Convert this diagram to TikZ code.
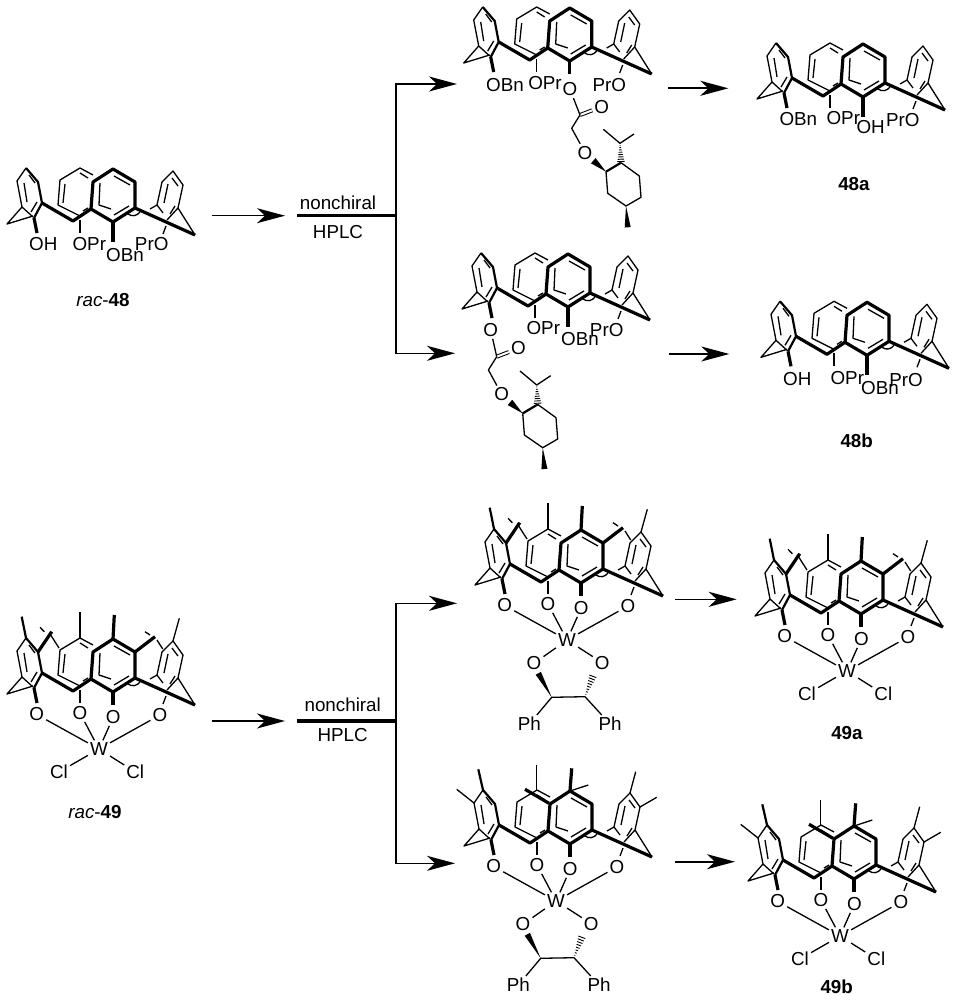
\documentclass[tikz,border=0pt]{standalone}
\usepackage{fontspec}
\setmainfont{Liberation Sans}
\usetikzlibrary{arrows.meta, calc}

\newcommand{\wedgebond}[3]{\fill (#1) -- ($(#2)!#3!90:(#1)$) -- ($(#2)!#3!-90:(#1)$) -- cycle;}
\newcommand{\hashbond}[3]{
\foreach \t in {0.1,0.22,0.34,0.46,0.58,0.7,0.82,0.94}
{
\coordinate (hm) at ($(#1)!\t!(#2)$);
\draw[line width=0.9pt] ($(hm)!\t*#3!90:(#2)$) -- ($(hm)!\t*#3!-90:(#2)$);
}
}
\newcommand{\wcore}{
\node[atom] (w) at (99,139) {W};
\foreach \n/\x/\y in {1/36.7/104.5, 2/80/103, 3/113.3/107, 4/160/105}
{
\node[atom] (o\n) at (\x,\y) {O};
\draw[bondthin] (o\n) -- (w);
}
}

\tikzset{
bondthin/.style={line width=1.3pt, line join=round},
bondmid/.style={line width=2.2pt, line join=round},
bondheavy/.style={line width=3.2pt, line join=round},
atom/.style={inner sep=2pt, font=\fontsize{18.8}{20}\selectfont},
rxnarrow/.style={line width=1.6pt, -{Stealth[length=28pt, width=15pt, inset=8pt]}},
calix/.pic={
\draw[bondthin] (33,77) -- (22,67) -- (17,41) -- (26,28);
\draw[bondthin] (22,67) -- (7,84) -- (33,76);
\draw[bondmid] (26,28) -- (38,42) -- (42,63) -- (34,78);
\draw[bondthin] (29,35) -- (35,43);
\draw[bondthin] (24,43) -- (27,62);
\draw[bondthin] (37,62) -- (31,72);
\draw[bondheavy] (34,78) -- (37,93);
\draw[bondheavy] (42,63) -- (73,81) -- (91,69);
\draw[bondthin] (93,35) -- (80,28) -- (60,40) -- (58,65) -- (80,76);
\draw[bondthin] (80,33) -- (88,38);
\draw[bondthin] (65,44) -- (63,63);
\draw[bondthin] (83,71) -- (88,68);
\draw[bondthin] (80,80) -- (80,93);
\draw[bondheavy] (113,29) -- (93,42) -- (91,69) -- (113,82) -- (135,68) -- (135,42) -- cycle;
\draw[bondthin] (114,36) -- (130,45);
\draw[bondthin] (100,43) -- (99,65) -- (111,69);
\draw[bondthin] (114,75) -- (129,66);
\draw[bondheavy] (113,82) -- (113,95);
\draw[bondheavy] (135,68) -- (195,95);
\draw[bondthin] (128,74) .. controls (132,77) and (137,76) .. (140,72);
\draw[bondthin] (150,69) -- (157,65) -- (162,42) -- (173,31) -- (183,45) -- (178,68) -- (167,80);
\draw[bondthin] (157,65) -- (163,73);
\draw[bondthin] (178,68) -- (195,95);
\draw[bondthin] (172,38) -- (178,46);
\draw[bondthin] (168,44) -- (164,63);
\draw[bondthin] (175,66) -- (170,74);
\draw[bondthin] (166,86) -- (163,94);
},
oext/.pic={
\draw[bondheavy] (113,94) -- (113,102);
},
mea/.pic={
\draw[bondmid] (26,28) -- (21.7,6.7);
\draw[bondheavy] (38,42) -- (51.7,21.7);
\draw[bondthin] (40,17.3) -- (44.3,21.7);
\draw[bondthin] (50.7,25) -- (59,38);
\draw[bondthin] (80,28) -- (80,2);
\draw[bondheavy] (113,29) -- (114.3,5);
\draw[bondheavy] (135,42) -- (155,26.7);
\draw[bondthin] (145,21.7) -- (150,25);
\draw[bondthin] (157,30) -- (162.7,39);
\draw[bondthin] (173,31) -- (179.3,8.3);
},
meb/.pic={
\draw[bondmid] (26,28) -- (21.3,7.3);
\draw[bondthin] (17,41) -- (-0.3,27.3);
\draw[bondthin] (79.7,3) -- (79.7,28);
\draw[bondheavy] (68,27.3) -- (92,41.3);
\draw[bondheavy] (113,29) -- (114.7,6.3);
\draw[bondthin] (113,29) -- (131.3,23);
\draw[bondthin] (173,31) -- (178.7,9.7);
\draw[bondthin] (183,45) -- (199.7,35.3);
},
wcl/.pic={
\wcore
\node[atom] (cll) at (59,162) {Cl};
\node[atom] (clr) at (135.3,162) {Cl};
\draw[bondthin] (w) -- (cll);
\draw[bondthin] (w) -- (clr);
},
wdiol/.pic={
\wcore
\node[atom] (ol) at (66,162.3) {O};
\node[atom] (or) at (134.3,161.7) {O};
\node[atom] (phl) at (61.3,223) {Ph};
\node[atom] (phr) at (142,223) {Ph};
\coordinate (cl) at (83.7,196.3);
\coordinate (cr) at (117,195.7);
\coordinate (wl) at (70.3,172.3);
\coordinate (wr) at (125.3,174);
\draw[bondthin] (w) -- (ol);
\draw[bondthin] (w) -- (or);
\draw[bondthin] (phl) -- (cl) -- (cr) -- (phr);
\wedgebond{cl}{wl}{3pt}
\hashbond{cr}{wr}{4pt}
},
ester/.pic={
\coordinate (c) at (0,0);
\coordinate (ch) at (-8.3,13.3);
\coordinate (ow) at (13.3,45.7);
\node[atom] (dbo) at (21.7,-8.3) {O};
\node[atom] (oe) at (5,37.7) {O};
\draw[bondthin, double, double distance=2pt, line width=1pt] (c) -- (dbo);
\draw[bondthin] (c) -- (ch) -- (oe);
\coordinate (ra) at (26,56.7);
\coordinate (rb) at (41,47.7);
\coordinate (rc) at (59.3,61);
\coordinate (rd) at (61,82.3);
\coordinate (re) at (46,91);
\coordinate (rf) at (27.7,78.3);
\coordinate (ip) at (40,28.3);
\coordinate (ma) at (23.3,14.3);
\coordinate (mb) at (54,19);
\coordinate (mc) at (47.7,112.3);
\draw[bondthin] (ra) -- (rf) -- (re) -- (rd) -- (rc) -- (rb);
\draw[bondmid] (rb) -- (ra);
\draw[bondthin] (ma) -- (ip) -- (mb);
\wedgebond{ra}{ow}{3.5pt}
\hashbond{ip}{rb}{4pt}
\wedgebond{re}{mc}{3pt}
}
}

\begin{document}
\begin{tikzpicture}[x=1pt, y=-1pt]
\useasboundingbox (0,0) rectangle (958,1000);

% rac-48 row
\pic (ra) at (0,140) {calix};
\pic at (0,140) {oext};
\node[atom] (raoh) at (43.3,244) {OH};
\node[atom] (raopr) at (89.3,244) {OPr};
\node[atom] (raobn) at (125,255) {OBn};
\node[atom] (rapro) at (151.7,244) {PrO};
\node[atom] (ralab) at (103,300) {\textit{rac}-\textbf{48}};

\pic (ea) at (456.7,-21) {calix};
\node[atom] (eaobn) at (505,85) {OBn};
\node[atom] (eaopr) at (545,82.7) {OPr};
\node[atom] (eao) at (570,89.3) {O};
\node[atom] (eapro) at (609.3,85) {PrO};
\pic (sa) at (580,115) {ester};
\draw[bondthin] (eao) -- (sac);

\pic (eb) at (455,225) {calix};
\pic at (455,225) {oext};
\node[atom] (ebo) at (490.7,330) {O};
\node[atom] (ebopr) at (543.3,328.3) {OPr};
\node[atom] (ebobn) at (580,339) {OBn};
\node[atom] (ebpro) at (606.7,330) {PrO};
\pic (sb) at (496.7,356.7) {ester};
\draw[bondthin] (ebo) -- (sbc);

\pic (fa) at (750,15) {calix};
\pic at (750,15) {oext};
\node[atom] (faobn) at (798.3,119.3) {OBn};
\node[atom] (faopr) at (843.3,118.3) {OPr};
\node[atom] (faoh) at (870.7,127.3) {OH};
\node[atom] (fapro) at (902.7,120) {PrO};
\node[atom] (falab) at (854,184) {\textbf{48a}};

\pic (fb) at (754,273.3) {calix};
\pic at (754,273.3) {oext};
\node[atom] (fboh) at (797.3,379.3) {OH};
\node[atom] (fbopr) at (847.3,378.3) {OPr};
\node[atom] (fbobn) at (880,388.3) {OBn};
\node[atom] (fbpro) at (906,380) {PrO};
\node[atom] (fblab) at (856.7,441) {\textbf{48b}};

% rac-49 row
\pic (rb) at (0,610) {calix};
\pic at (0,610) {mea};
\pic (rbw) at (0,610) {wcl};
\node[atom] (rblab) at (95,811.7) {\textit{rac}-\textbf{49}};

\pic (ga) at (468,501) {calix};
\pic at (468,501) {mea};
\pic (gaw) at (468,501) {wdiol};

\pic (gb) at (457,762) {calix};
\pic at (457,762) {meb};
\pic (gbw) at (457,762) {wdiol};

\pic (ha) at (748,532) {calix};
\pic at (748,532) {mea};
\pic (haw) at (748,532) {wcl};
\node[atom] (halab) at (847,733) {\textbf{49a}};

\pic (hb) at (741,797) {calix};
\pic at (741,797) {meb};
\pic (hbw) at (741,797) {wcl};
\node[atom] (hblab) at (836.7,986.7) {\textbf{49b}};

% reaction arrows
\foreach \nm/\ya/\ytop/\ybot/\xlab/\ylaba/\ylabb in {up/215.7/84/353.3/338/202.3/231.7, lo/721/603.3/863.3/342.7/705/735}
{
\coordinate (\nm s) at (211.7,\ya);
\coordinate (\nm e) at (285,\ya);
\coordinate (\nm t) at (297.3,\ya);
\coordinate (\nm j) at (395.7,\ya);
\coordinate (\nm a) at (457,\ytop);
\coordinate (\nm b) at (455,\ybot);
\draw[rxnarrow] (\nm s) -- (\nm e);
\draw[bondheavy, line width=3.4pt] (\nm t) -- (\nm j);
\draw[rxnarrow] (\nm j) |- (\nm a);
\draw[rxnarrow] (\nm j) |- (\nm b);
\node[atom] (\nm nc) at (\xlab,\ylaba) {nonchiral};
\node[atom] (\nm hp) at (\xlab,\ylabb) {HPLC};
}

\foreach \nm/\xa/\xb/\y in {pa/668.3/728.3/88.3, pb/669/729.3/354, pc/675/736.7/599.3, pd/675/735/861.7}
{
\coordinate (\nm s) at (\xa,\y);
\coordinate (\nm e) at (\xb,\y);
\draw[rxnarrow] (\nm s) -- (\nm e);
}
\end{tikzpicture}
\end{document}
